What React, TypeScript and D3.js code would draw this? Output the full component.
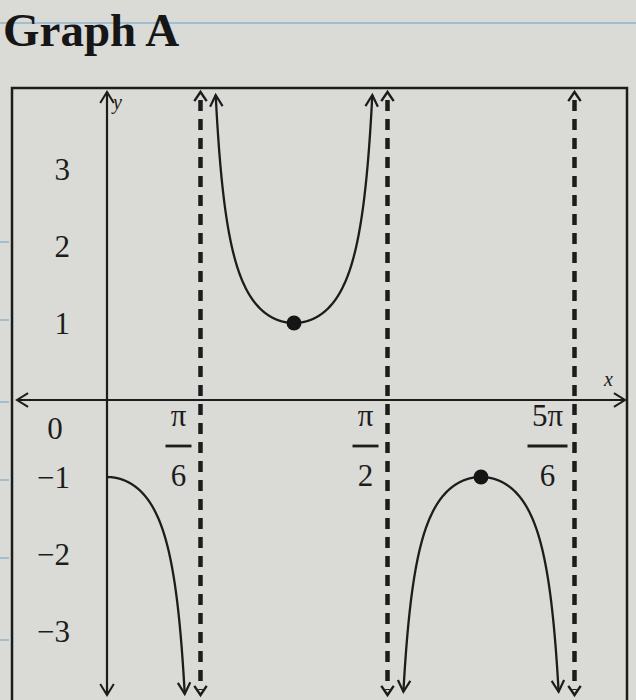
import * as d3 from 'd3';
import React from 'react';

// y = -sec(3x)
const asymptotes = [Math.PI / 6, Math.PI / 2, (5 * Math.PI) / 6];
const branches: [number, number][] = [
  [0, Math.PI / 6],
  [Math.PI / 6, Math.PI / 2],
  [Math.PI / 2, (5 * Math.PI) / 6],
];
const dots: [number, number][] = [
  [Math.PI / 3, 1],
  [(2 * Math.PI) / 3, -1],
];
const yTicks = [3, 2, 1, 0, -1, -2, -3];
const xTickLabels = [
  { value: Math.PI / 6, num: 'π', den: '6' },
  { value: Math.PI / 2, num: 'π', den: '2' },
  { value: (5 * Math.PI) / 6, num: '5π', den: '6' },
];
const blueMarks = [242, 320, 402, 480, 558, 640];

const W = 636;
const H = 700;
const unit = Math.PI / 6;

const x = d3.scaleLinear().domain([0, unit]).range([107, 200.5]);
const y = d3.scaleLinear().domain([0, 1]).range([400, 323]);

const f = (t: number) => -1 / Math.cos(3 * t);

const yTop = y.invert(93);
const yBot = y.invert(694);

const ink = '#1c1c1c';

function chevron(tx: number, ty: number, angle: number, size = 11, spread = 0.5) {
  const a1 = angle + Math.PI - spread;
  const a2 = angle + Math.PI + spread;
  return `M${tx + size * Math.cos(a1)},${ty + size * Math.sin(a1)}L${tx},${ty}L${tx + size * Math.cos(a2)},${ty + size * Math.sin(a2)}`;
}

function branchPath(a: number, b: number) {
  const pts: [number, number][] = [];
  const n = 800;
  for (let i = 0; i <= n; i++) {
    const t = a + ((b - a) * i) / n;
    const v = f(t);
    if (!isFinite(v) || v > yTop || v < yBot) continue;
    pts.push([x(t), y(v)]);
  }
  return { d: d3.line()(pts) || '', pts };
}

export default function App() {
  const paths = branches.map(([a, b]) => branchPath(a, b));
  return (
    <svg
      width={W}
      height={H}
      style={{ position: 'absolute', left: 0, top: 0 }}
      fontFamily="'Liberation Serif', 'Times New Roman', serif"
    >
      <rect width={W} height={H} fill="#dadad6" />
      {/* notebook lines */}
      <line x1={0} x2={W} y1={23} y2={23} stroke="#8fb3cc" strokeWidth={1.5} />
      {blueMarks.map((m) => (
        <line key={m} x1={0} x2={9} y1={m} y2={m} stroke="#8fb3cc" strokeWidth={1.5} />
      ))}
      <text x={3} y={46} fontSize={47} fontWeight="bold" fill="#161616">
        Graph A
      </text>

      {/* frame */}
      <path d={`M12,${H + 2}L12,88L627,88L627,${H + 2}`} fill="none" stroke={ink} strokeWidth={2.5} />

      {/* x axis */}
      <line x1={17} x2={625} y1={y(0)} y2={y(0)} stroke={ink} strokeWidth={2.2} />
      <path d={chevron(17, y(0), Math.PI, 13, 0.55)} fill="none" stroke={ink} strokeWidth={2} />
      <path d={chevron(625, y(0), 0, 13, 0.55)} fill="none" stroke={ink} strokeWidth={2} />
      <text x={604} y={386} fontSize={20} fontStyle="italic" fill={ink}>x</text>

      {/* y axis */}
      <line x1={x(0)} x2={x(0)} y1={92} y2={695} stroke={ink} strokeWidth={2.2} />
      <path d={chevron(x(0), 92, -Math.PI / 2, 13, 0.55)} fill="none" stroke={ink} strokeWidth={2} />
      <path d={chevron(x(0), 695, Math.PI / 2, 13, 0.55)} fill="none" stroke={ink} strokeWidth={2} />
      <text x={113} y={109} fontSize={20} fontStyle="italic" fill={ink}>y</text>

      {/* y tick labels */}
      {yTicks.map((v) =>
        v === 0 ? (
          <text key={v} x={55} y={439} fontSize={31} textAnchor="middle" fill={ink}>0</text>
        ) : (
          <text key={v} x={70} y={y(v) + 11} fontSize={31} textAnchor="end" fill={ink}>
            {v < 0 ? `−${-v}` : v}
          </text>
        )
      )}

      {/* asymptotes */}
      {asymptotes.map((a) => (
        <g key={a}>
          <line
            x1={x(a)}
            x2={x(a)}
            y1={100}
            y2={690}
            stroke={ink}
            strokeWidth={4.5}
            strokeDasharray="11 8"
          />
          <path d={chevron(x(a), 92, -Math.PI / 2, 11, 0.6)} fill="none" stroke={ink} strokeWidth={2.4} />
          <path d={chevron(x(a), 695, Math.PI / 2, 11, 0.6)} fill="none" stroke={ink} strokeWidth={2.4} />
        </g>
      ))}

      {/* x tick labels as fractions */}
      {xTickLabels.map((t) => {
        const wide = t.num.length > 1;
        const cx = x(t.value) - (wide ? 27 : 22);
        const w = wide ? 40 : 26;
        return (
          <g key={t.value} fill={ink}>
            <text x={cx} y={426} fontSize={31} textAnchor="middle">{t.num}</text>
            <line x1={cx - w / 2} x2={cx + w / 2} y1={446} y2={446} stroke={ink} strokeWidth={2.8} />
            <text x={cx} y={486} fontSize={31} textAnchor="middle">{t.den}</text>
          </g>
        );
      })}

      {/* curve branches */}
      {paths.map((p, i) => {
        const pts = p.pts;
        const arrows: JSX.Element[] = [];
        const first = pts[0];
        const last = pts[pts.length - 1];
        if (i > 0) {
          const nb = pts[8];
          arrows.push(
            <path
              key="s"
              d={chevron(first[0], first[1], Math.atan2(first[1] - nb[1], first[0] - nb[0]), 13, 0.5)}
              fill="none"
              stroke={ink}
              strokeWidth={2.2}
            />
          );
        }
        const pb = pts[pts.length - 9];
        arrows.push(
          <path
            key="e"
            d={chevron(last[0], last[1], Math.atan2(last[1] - pb[1], last[0] - pb[0]), 13, 0.5)}
            fill="none"
            stroke={ink}
            strokeWidth={2.2}
          />
        );
        return (
          <g key={i}>
            <path d={p.d} fill="none" stroke={ink} strokeWidth={2.3} />
            {arrows}
          </g>
        );
      })}

      {dots.map(([dx, dy]) => (
        <circle key={dx} cx={x(dx)} cy={y(dy)} r={7.5} fill="#151515" />
      ))}
    </svg>
  );
}
